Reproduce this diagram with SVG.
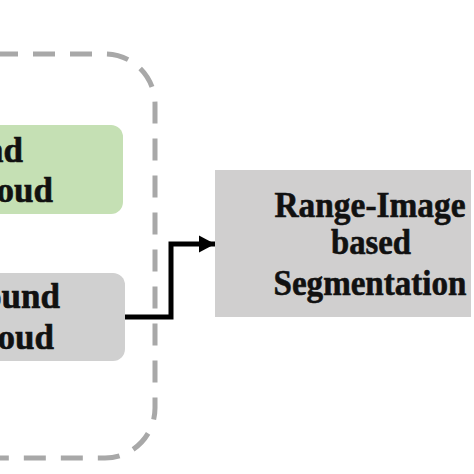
<svg xmlns="http://www.w3.org/2000/svg" width="474" height="474" viewBox="0 0 474 474">
<style>
.t{font-family:"Liberation Serif","Times New Roman",serif;font-weight:bold;font-size:35px;fill:#111;stroke:#111;stroke-width:0.6}
.b{font-size:36px}
.e{text-anchor:end}
.m{text-anchor:middle}
</style>
<defs>
<marker id="ah" markerUnits="userSpaceOnUse" markerWidth="18" markerHeight="18" refX="16" refY="9" orient="auto">
<path d="M0,0.5 L16,9 L0,17.5 Z" fill="#000"/>
</marker>
</defs>
<rect width="474" height="474" fill="#fff"/>
<g id="group-border">
<path d="M-20,54 H105 A50,50 0 0 1 155,104 V408 A50,50 0 0 1 105,458 H-20" fill="none" stroke="#a8a8a8" stroke-width="5" stroke-dasharray="22 15" stroke-dashoffset="21"/>
</g>
<g id="node-ground">
<rect x="-30" y="125" width="153" height="89" rx="12" fill="#c5e0b4"/>
<text class="t e" x="23" y="162">nd</text>
<text class="t e" x="53" y="202">oud</text>
</g>
<g id="node-nonground">
<rect x="-30" y="273" width="155" height="88" rx="12" fill="#d0d0d0"/>
<text class="t e" x="60" y="308">ound</text>
<text class="t e" x="54" y="349">oud</text>
</g>
<g id="node-segmentation">
<rect x="215" y="170" width="256" height="147" fill="#d0cfcf"/>
<text class="t b m" x="370" y="217" textLength="191" lengthAdjust="spacingAndGlyphs">Range-Image</text>
<text class="t b m" x="371" y="254" textLength="80" lengthAdjust="spacingAndGlyphs">based</text>
<text class="t b m" x="370" y="295" textLength="193" lengthAdjust="spacingAndGlyphs">Segmentation</text>
</g>
<g id="connectors">
<path d="M125,317 H171 V244 H215" fill="none" stroke="#000" stroke-width="5" marker-end="url(#ah)"/>
</g>
</svg>
